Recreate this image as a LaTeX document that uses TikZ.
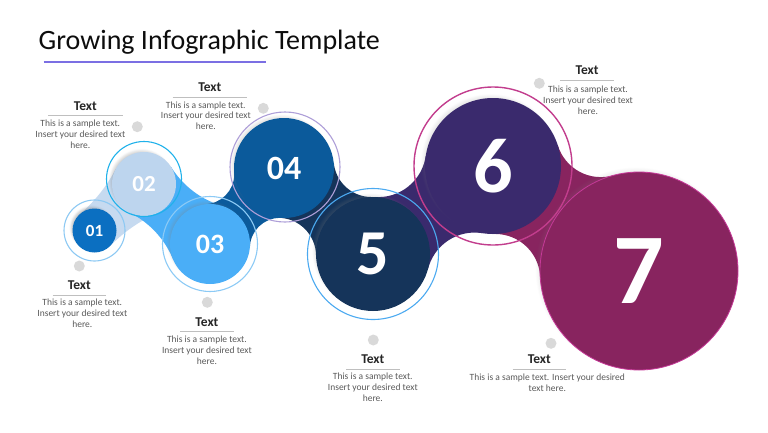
\documentclass[tikz,border=0pt]{standalone}
\usepackage{fontspec}
\setmainfont{Carlito}
\usetikzlibrary{positioning, intersections, backgrounds, shadows}
\definecolor{c01}{HTML}{0B6FC1}
\definecolor{c02}{HTML}{BDD5EE}
\definecolor{c03}{HTML}{4AAEF7}
\definecolor{c04}{HTML}{0B5A9B}
\definecolor{c05}{HTML}{15345A}
\definecolor{c06}{HTML}{3A2A6D}
\definecolor{c07}{HTML}{88245F}
\definecolor{neck12}{HTML}{C6DAF0}
\definecolor{ring01}{HTML}{8DC9F3}
\definecolor{ring02}{HTML}{1FB1EA}
\definecolor{ring03}{HTML}{8CCAF5}
\definecolor{ring04}{HTML}{AE9FD8}
\definecolor{ring05}{HTML}{4BA9F0}
\definecolor{ring06}{HTML}{C23D8D}
\definecolor{edge07}{HTML}{C63A98}
\definecolor{dotgrey}{HTML}{D9D9D9}
\definecolor{txtdark}{HTML}{262626}
\definecolor{txtgrey}{HTML}{595959}
\definecolor{rulegrey}{HTML}{BFBFBF}
\definecolor{titleline}{HTML}{7B6FE3}
\tikzset{
  stepcirc/.style={circle, inner sep=0pt, text=white,
    circular drop shadow={shadow xshift=-3pt, shadow yshift=3pt, shadow scale=1.02, opacity=.4}},
  ring/.style={line width=1.1pt},
  head/.style={font=\fontsize{13.5}{14}\selectfont\bfseries, text=txtdark,
    inner xsep=0pt, inner ysep=5.5pt, minimum width=53pt},
  body/.style={font=\fontsize{9.5}{10.7}\selectfont, text=txtgrey, align=center, inner sep=0pt},
  rule/.style={draw=rulegrey, line width=0.8pt},
  titlerule/.style={draw=titleline, line width=1.2pt},
  dot/.style={circle, fill=dotgrey, minimum size=11pt, inner sep=0pt},
  numfont/.style={font=\fontsize{#1}{#1}\selectfont\bfseries},
}

\begin{document}
\begin{tikzpicture}[x=1pt, y=-1pt]
\useasboundingbox (0,0) rectangle (768,432);

% title
\node[anchor=base west, inner sep=0pt, font=\fontsize{28}{30}\selectfont, text=black!95] (title) at (38.5,49.3) {Growing Infographic Template};
\draw[titlerule] ([xshift=5pt, yshift=-12.7pt]title.base west) -- ++(222,0);

% the seven steps
\node[stepcirc, fill=c01, minimum size=44pt, numfont=17] (s1) at (94.5,230.5) {01};
\node[stepcirc, fill=c02, minimum size=64pt, numfont=23] (s2) at (144,184) {02};
\node[stepcirc, fill=c03, minimum size=80pt, numfont=28] (s3) at (210,244) {03};
\node[stepcirc, fill=c04, minimum size=100pt, numfont=34] (s4) at (284,168) {04};
\node[stepcirc, fill=c05, minimum size=114pt, numfont=64] (s5) at (373,254) {5};
\node[stepcirc, fill=c06, minimum size=136pt, numfont=78] (s6) at (493,166) {6};
\node[stepcirc, fill=c07, draw=edge07, line width=0.8pt, minimum size=198pt, numfont=100] (s7) at (639,271) {7};

\draw[ring, ring01] (s1.center) circle (30.5);
\draw[ring, ring02] ([yshift=5pt]s2.center) circle (37.5);
\draw[ring, ring03] (s3.center) circle (47.5);
\draw[ring, ring04] ([xshift=1pt, yshift=1pt]s4.center) circle (55);
\draw[ring, ring05] (s5.center) circle (65.5);
\draw[ring, ring06, line width=1.4pt] (s6.center) circle (79);

% necks between the steps
\begin{scope}[on background layer]
\foreach \a/\ra/\b/\rb/\R/\col in {s1/22/s2/32/150/neck12, s2/32/s3/40/90/c03,
    s3/40/s4/50/30/c04, s4/50/s5/57/38/c05, s5/57/s6/68/48/c06, s6/68/s7/99/45/c07}{
  \path[name path=na] (\a.center) circle ({\ra+\R});
  \path[name path=nb] (\b.center) circle ({\rb+\R});
  \path[name intersections={of=na and nb, by={p,q}}];
  \begin{scope}[even odd rule]
    \clip (-600,-600) rectangle (1400,1100) (p) circle (\R) (q) circle (\R);
    \fill[\col] (\a.center) -- (p) -- (\b.center) -- (q) -- cycle;
  \end{scope}
}
\end{scope}

% text blocks
\node[dot] (d1) at (79.3,266) {};
\node[head] (h1) at (79.3,285) {Text};
\node[body, below=4pt of h1, xshift=3pt] (b1) {This is a sample text.\\Insert your desired text\\here.};
\draw[rule] (h1.south west) -- (h1.south east);

\node[dot] (d2) at (137.3,126.7) {};
\node[head, minimum width=74pt] (h2) at (85.3,105.7) {Text};
\node[body, below=4pt of h2, xshift=-5pt] (b2) {This is a sample text.\\Insert your desired text\\here.};
\draw[rule] (h2.south west) -- (h2.south east);

\node[dot] (d3) at (207.3,302.3) {};
\node[head] (h3) at (206.9,321.7) {Text};
\node[body, below=4pt of h3] (b3) {This is a sample text.\\Insert your desired text\\here.};
\draw[rule] (h3.south west) -- (h3.south east);

\node[dot] (d4) at (263.3,108.3) {};
\node[head, minimum width=74pt] (h4) at (209.8,87.3) {Text};
\node[body, below=4pt of h4, xshift=-4pt] (b4) {This is a sample text.\\Insert your desired text\\here.};
\draw[rule] (h4.south west) -- (h4.south east);

\node[dot] (d5) at (373.3,340) {};
\node[head] (h5) at (372.8,359) {Text};
\node[body, below=4pt of h5] (b5) {This is a sample text.\\Insert your desired text\\here.};
\draw[rule] (h5.south west) -- (h5.south east);

\node[dot] (d6) at (539.3,83.3) {};
\node[head] (h6) at (587,70) {Text};
\node[body, below=6pt of h6, xshift=1pt] (b6) {This is a sample text.\\Insert your desired text\\here.};
\draw[rule] (h6.south west) -- (h6.south east);

\node[dot] (d7) at (551,343.3) {};
\node[head] (h7) at (539.3,359.5) {Text};
\node[body, below=4pt of h7, xshift=8pt] (b7) {This is a sample text. Insert your desired\\text here.};
\draw[rule] (h7.south west) -- (h7.south east);
\end{tikzpicture}
\end{document}
